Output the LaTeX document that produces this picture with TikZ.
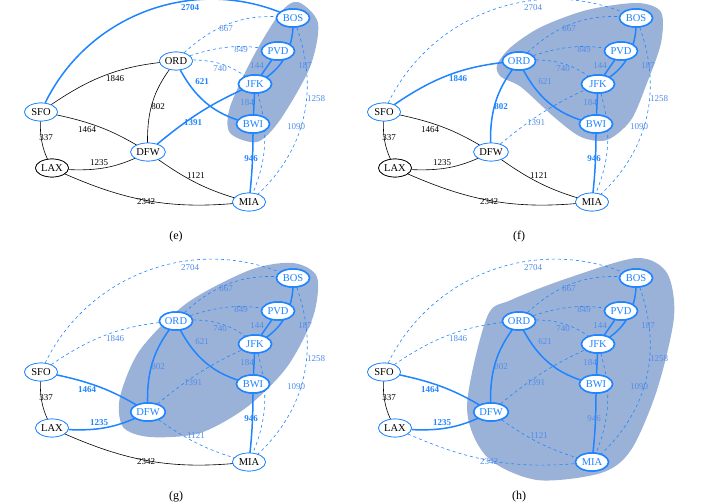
\documentclass[tikz,border=0pt]{standalone}
\usepackage{fontspec}
\setmainfont{Liberation Serif}
\usetikzlibrary{shapes.geometric}
\definecolor{mstblue}{RGB}{30,132,255}
\definecolor{lightlbl}{RGB}{80,140,235}
\definecolor{cloudfill}{RGB}{155,178,216}
\tikzset{
  % kinds of edges
  treeE/.style={draw=mstblue, line width=1.5pt},
  frontE/.style={draw=mstblue, line width=1.5pt},
  dashE/.style={draw=mstblue, dashed, line width=0.6pt},
  plainE/.style={draw=black, line width=0.6pt},
  treeL/.style={text=lightlbl, font=\fontsize{9}{10}\selectfont},
  frontL/.style={text=mstblue, font=\fontsize{9}{10}\selectfont\bfseries},
  dashL/.style={text=lightlbl, font=\fontsize{9}{10}\selectfont},
  plainL/.style={text=black, font=\fontsize{9}{10}\selectfont},
  % kinds of airports
  city/.style={ellipse, fill=white, inner sep=0.6pt, minimum width=33pt, minimum height=18pt,
    font=\fontsize{10.5}{12}\selectfont},
  inN/.style={city, draw=mstblue, line width=1.5pt, text=mstblue},
  edgeN/.style={city, draw=mstblue, line width=0.7pt, text=black},
  outN/.style={city, draw=black, line width=0.7pt, text=black},
  cloud/.style={fill=cloudfill, draw=none},
  caption/.style={font=\fontsize{12}{14}\selectfont}
}
\newcommand\edgekind[2]{\tikzset{#1E/.style={#2E},#1L/.style={#2L}}}
\newcommand\citykind[2]{\tikzset{#1N/.style={#2N}}}
\newcommand\airgraph{%
  \node[SFON] (SFO) at (41,112) {SFO};
  \node[LAXN] (LAX) at (52,168) {LAX};
  \node[DFWN] (DFW) at (148,152) {DFW};
  \node[ORDN] (ORD) at (176,61) {ORD};
  \node[BOSN] (BOS) at (293,18) {BOS};
  \node[PVDN] (PVD) at (278,51) {PVD};
  \node[JFKN] (JFK) at (255,84) {JFK};
  \node[BWIN] (BWI) at (253,124) {BWI};
  \node[MIAN] (MIA) at (249,202) {MIA};
  \path[SBE] (SFO) to[bend left=45] (BOS);
  \path[SOE] (SFO) to[bend left=15] (ORD);
  \path[SDE] (SFO) to[bend left=10] (DFW);
  \path[SLE] (SFO) to[bend right=15] (LAX);
  \path[LDE] (LAX) to[bend right=15] (DFW);
  \path[LME] (LAX) to[bend right=15] (MIA);
  \path[DME] (DFW) to[bend right=10] (MIA);
  \path[DOE] (DFW) to[bend left=20] (ORD);
  \path[DJE] (DFW) to[bend left=8] (JFK);
  \path[OWE] (ORD) to[bend right=25] (BWI);
  \path[OBE] (ORD) to[bend left=25] (BOS);
  \path[OPE] (ORD) to[bend left=15] (PVD);
  \path[OJE] (ORD) to[bend left=20] (JFK);
  \path[PJE] (PVD) -- (JFK);
  \path[BJE] (BOS) to[bend left=30] (JFK);
  \path[JWE] (JFK) -- (BWI);
  \path[WME] (BWI) to[bend left=3] (MIA);
  \path[JME] (JFK) to[bend left=20] (MIA);
  \path[BME] (BOS) to[bend left=35] (MIA);
  % weights
  \node[SBL] (wSB) at (190,8) {2704};
  \node[OBL] (wOB) at (226,29) {867};
  \node[OPL] (wOP) at (241,50) {849};
  \node[OJL] (wOJ) at (220,69) {740};
  \node[PJL] (wPJ) at (257,66) {144};
  \node[BJL] (wBJ) at (305,66) {187};
  \node[SOL] (wSO) at (115,79) {1846};
  \node[OWL] (wOW) at (202,82) {621};
  \node[DOL] (wDO) at (158,107) {802};
  \node[BML] (wBM) at (316,99) {1258};
  \node[JWL] (wJW) at (247,103) {184};
  \node[DJL] (wDJ) at (193,123) {1391};
  \node[JML] (wJM) at (296,127) {1090};
  \node[SDL] (wSD) at (87,130) {1464};
  \node[SLL] (wSL) at (46,138) {337};
  \node[LDL] (wLD) at (99,163) {1235};
  \node[DML] (wDM) at (196,176) {1121};
  \node[WML] (wWM) at (251,159) {946};
  \node[LML] (wLM) at (146,202) {2342};
  \airnodes
}
\newcommand\airnodes{%
  \node[SFON] at (SFO) {SFO};
  \node[LAXN] at (LAX) {LAX};
  \node[DFWN] at (DFW) {DFW};
  \node[ORDN] at (ORD) {ORD};
  \node[BOSN] at (BOS) {BOS};
  \node[PVDN] at (PVD) {PVD};
  \node[JFKN] at (JFK) {JFK};
  \node[BWIN] at (BWI) {BWI};
  \node[MIAN] at (MIA) {MIA};
}
\begin{document}
\begin{tikzpicture}[x=1pt, y=-1pt]
  \useasboundingbox (0,0) rectangle (709,503);

  % (e)
  \begin{scope}[name prefix=e-]
    \fill[cloud] plot[smooth cycle] coordinates {(298,2) (318,23) (310,67) (280,120) (257,142) (230,133) (230,107) (253,57) (280,13)};
    \edgekind{PJ}{tree}\edgekind{BJ}{tree}\edgekind{JW}{tree}
    \edgekind{SB}{front}\edgekind{OW}{front}\edgekind{DJ}{front}\edgekind{WM}{front}
    \edgekind{OB}{dash}\edgekind{OP}{dash}\edgekind{OJ}{dash}\edgekind{JM}{dash}\edgekind{BM}{dash}
    \edgekind{SO}{plain}\edgekind{SD}{plain}\edgekind{SL}{plain}\edgekind{LD}{plain}
    \edgekind{LM}{plain}\edgekind{DM}{plain}\edgekind{DO}{plain}
    \citykind{BOS}{in}\citykind{PVD}{in}\citykind{JFK}{in}\citykind{BWI}{in}
    \citykind{SFO}{edge}\citykind{ORD}{edge}\citykind{DFW}{edge}\citykind{MIA}{edge}
    \citykind{LAX}{out}
    \airgraph
    \node[caption] (cap) at (176,237) {(e)};
  \end{scope}

  % (f)
  \begin{scope}[shift={(343,0)}, name prefix=f-]
    \fill[cloud] plot[smooth cycle] coordinates {(154,65) (168,47) (198,27) (244,10) (294,3) (318,12) (318,43) (304,83) (288,120) (264,140) (238,137) (211,117) (178,87) (158,77)};
    \edgekind{PJ}{tree}\edgekind{BJ}{tree}\edgekind{JW}{tree}\edgekind{OW}{tree}
    \edgekind{SO}{front}\edgekind{DO}{front}\edgekind{WM}{front}
    \edgekind{SB}{dash}\edgekind{OB}{dash}\edgekind{OP}{dash}\edgekind{OJ}{dash}
    \edgekind{DJ}{dash}\edgekind{JM}{dash}\edgekind{BM}{dash}
    \edgekind{SD}{plain}\edgekind{SL}{plain}\edgekind{LD}{plain}\edgekind{LM}{plain}\edgekind{DM}{plain}
    \citykind{BOS}{in}\citykind{PVD}{in}\citykind{JFK}{in}\citykind{BWI}{in}\citykind{ORD}{in}
    \citykind{SFO}{edge}\citykind{DFW}{edge}\citykind{MIA}{edge}
    \citykind{LAX}{out}
    \airgraph
    \node[caption] (cap) at (176,237) {(f)};
  \end{scope}

  % (g)
  \begin{scope}[shift={(0,260)}, name prefix=g-]
    \fill[cloud] plot[smooth cycle] coordinates {(123,167) (120,137) (140,90) (187,43) (250,10) (293,3) (317,17) (313,57) (287,107) (247,147) (200,173) (150,177)};
    \edgekind{PJ}{tree}\edgekind{BJ}{tree}\edgekind{JW}{tree}\edgekind{OW}{tree}\edgekind{DO}{tree}
    \edgekind{SD}{front}\edgekind{LD}{front}\edgekind{WM}{front}
    \edgekind{SB}{dash}\edgekind{SO}{dash}\edgekind{OB}{dash}\edgekind{OP}{dash}\edgekind{OJ}{dash}
    \edgekind{DJ}{dash}\edgekind{DM}{dash}\edgekind{JM}{dash}\edgekind{BM}{dash}
    \edgekind{SL}{plain}\edgekind{LM}{plain}
    \citykind{BOS}{in}\citykind{PVD}{in}\citykind{JFK}{in}\citykind{BWI}{in}\citykind{ORD}{in}\citykind{DFW}{in}
    \citykind{SFO}{edge}\citykind{LAX}{edge}\citykind{MIA}{edge}
    \airgraph
    \node[caption] (cap) at (176,237) {(g)};
  \end{scope}

  % (h)
  \begin{scope}[shift={(343,260)}, name prefix=h-]
    \fill[cloud] plot[smooth cycle] coordinates {(124,147) (144,57) (168,40) (228,17) (294,-2) (324,13) (331,57) (314,130) (288,190) (258,213) (194,220) (144,197)};
    \edgekind{PJ}{tree}\edgekind{BJ}{tree}\edgekind{JW}{tree}\edgekind{OW}{tree}\edgekind{DO}{tree}\edgekind{WM}{tree}
    \edgekind{SD}{front}\edgekind{LD}{front}
    \edgekind{SB}{dash}\edgekind{SO}{dash}\edgekind{OB}{dash}\edgekind{OP}{dash}\edgekind{OJ}{dash}
    \edgekind{DJ}{dash}\edgekind{DM}{dash}\edgekind{JM}{dash}\edgekind{BM}{dash}\edgekind{LM}{dash}
    \edgekind{SL}{plain}
    \citykind{BOS}{in}\citykind{PVD}{in}\citykind{JFK}{in}\citykind{BWI}{in}\citykind{ORD}{in}
    \citykind{DFW}{in}\citykind{MIA}{in}
    \citykind{SFO}{edge}\citykind{LAX}{edge}
    \airgraph
    \node[caption] (cap) at (176,237) {(h)};
  \end{scope}
\end{tikzpicture}
\end{document}
